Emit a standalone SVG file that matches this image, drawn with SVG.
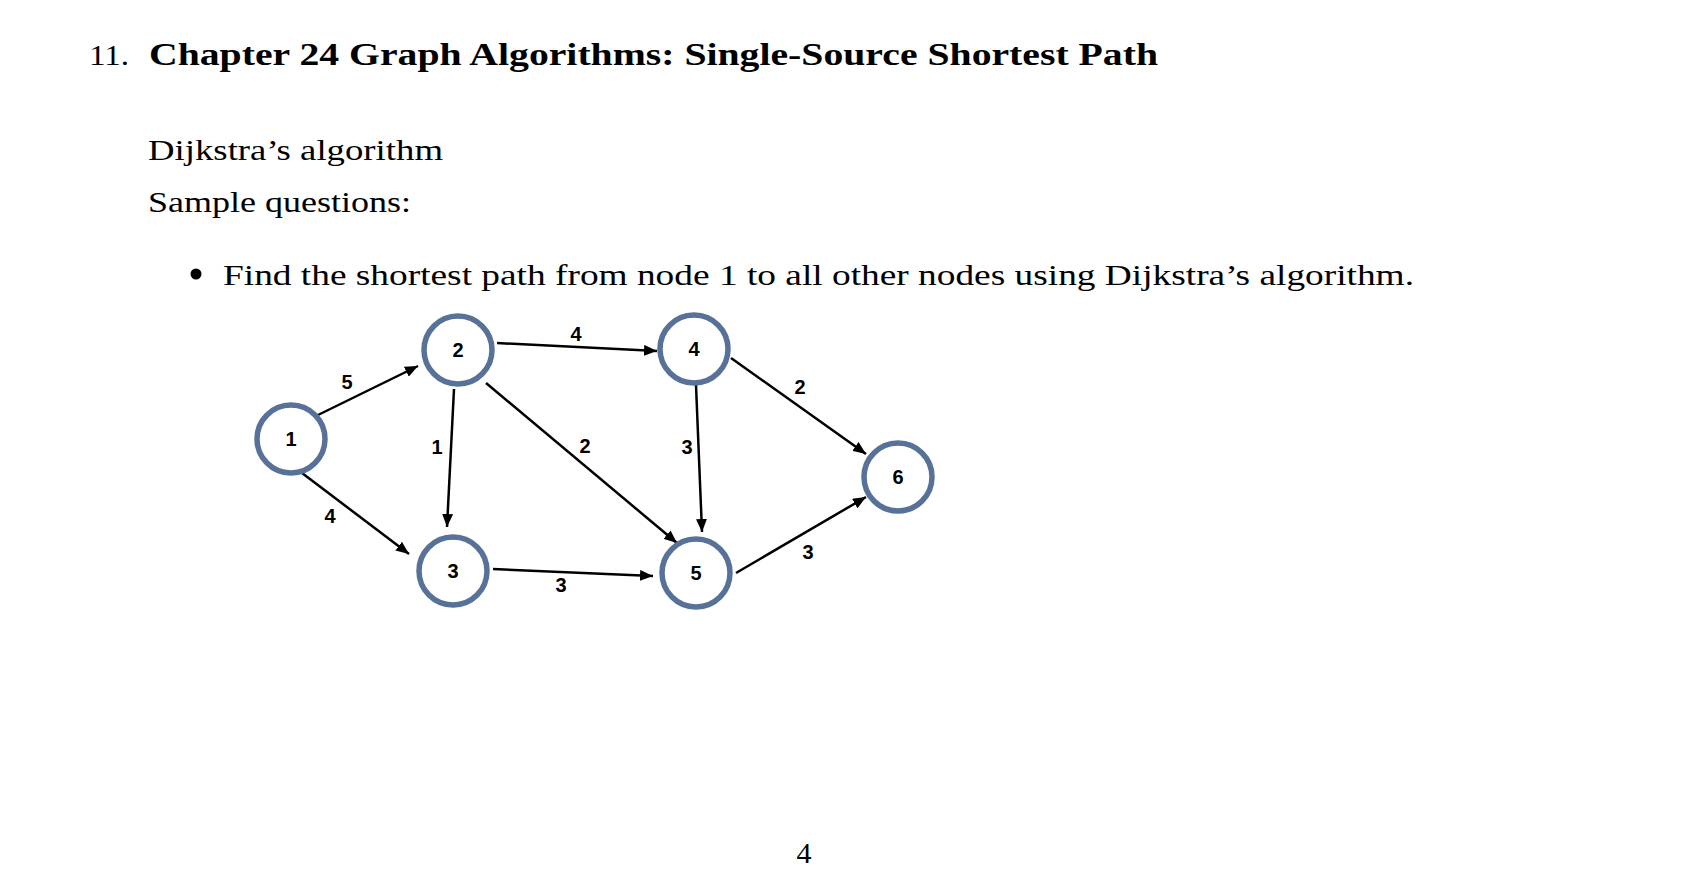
<svg xmlns="http://www.w3.org/2000/svg" width="1688" height="892" viewBox="0 0 1688 892">
<style>
.t{font-family:"Liberation Serif","Times New Roman",serif;font-size:30px;fill:#000}
.b{font-weight:bold;font-size:31px}
.node circle{fill:#fff;stroke:#587198;stroke-width:5.5}
.node text,.lbl{font-family:"Liberation Sans",Arial,sans-serif;font-weight:bold;font-size:20px;fill:#000;text-anchor:middle}
.edges line{stroke:#000;stroke-width:2.5;marker-end:url(#ah)}
</style>
<defs>
<marker id="ah" markerUnits="userSpaceOnUse" markerWidth="14" markerHeight="11" refX="13" refY="5.5" orient="auto">
<path d="M0,0 L13,5.5 L0,11 z" fill="#000"/>
</marker>
</defs>
<rect width="1688" height="892" fill="#fff"/>
<text class="t" x="89" y="65" textLength="40" lengthAdjust="spacingAndGlyphs">11.</text>
<text class="t b" x="149" y="65" textLength="1009" lengthAdjust="spacingAndGlyphs">Chapter 24 Graph Algorithms: Single-Source Shortest Path</text>
<text class="t" x="148" y="160" textLength="295" lengthAdjust="spacingAndGlyphs">Dijkstra’s algorithm</text>
<text class="t" x="148" y="212" textLength="263" lengthAdjust="spacingAndGlyphs">Sample questions:</text>
<circle cx="196" cy="274" r="5.5" fill="#000"/>
<text class="t" x="223" y="285" textLength="1191" lengthAdjust="spacingAndGlyphs">Find the shortest path from node 1 to all other nodes using Dijkstra’s algorithm.</text>
<text class="t" x="804" y="863" text-anchor="middle">4</text>
<g id="edges" class="edges">
<line x1="318" y1="415" x2="418" y2="366"/>
<line x1="302" y1="473" x2="409" y2="554"/>
<line x1="454" y1="389" x2="447" y2="527"/>
<line x1="497" y1="343" x2="657" y2="351"/>
<line x1="486" y1="383" x2="677" y2="543"/>
<line x1="493" y1="569" x2="653" y2="576"/>
<line x1="696" y1="385" x2="702" y2="532"/>
<line x1="731" y1="358" x2="866" y2="454"/>
<line x1="736" y1="573" x2="866" y2="497"/>
</g>
<g id="edge-labels">
<text class="lbl" x="347" y="389">5</text>
<text class="lbl" x="330" y="523">4</text>
<text class="lbl" x="437" y="454">1</text>
<text class="lbl" x="576" y="341">4</text>
<text class="lbl" x="585" y="453">2</text>
<text class="lbl" x="561" y="592">3</text>
<text class="lbl" x="687" y="454">3</text>
<text class="lbl" x="800" y="394">2</text>
<text class="lbl" x="808" y="559">3</text>
</g>
<g id="node1" class="node"><circle cx="291" cy="439" r="34"/><text x="291" y="446">1</text></g>
<g id="node2" class="node"><circle cx="458" cy="350" r="34"/><text x="458" y="357">2</text></g>
<g id="node3" class="node"><circle cx="453" cy="571" r="34"/><text x="453" y="578">3</text></g>
<g id="node4" class="node"><circle cx="694" cy="349" r="34"/><text x="694" y="356">4</text></g>
<g id="node5" class="node"><circle cx="696" cy="573" r="34"/><text x="696" y="580">5</text></g>
<g id="node6" class="node"><circle cx="898" cy="477" r="34"/><text x="898" y="484">6</text></g>
</svg>
